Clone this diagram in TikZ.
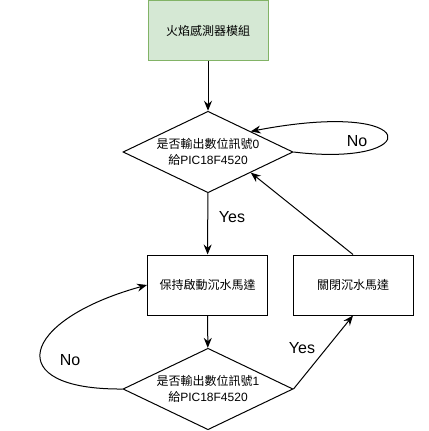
\documentclass[tikz,border=0pt]{standalone}
\usepackage{fontspec}
\setmainfont{Liberation Sans}
\newfontfamily\cjk{Noto Sans CJK TC}
\usetikzlibrary{shapes.geometric,arrows.meta}

\begin{document}
\begin{tikzpicture}[x=0.75pt,y=0.75pt,yscale=-1,xscale=1,
    stepbox/.style={draw, line width=0.75pt, minimum width=90pt, minimum height=45pt, inner sep=0.75pt, font=\cjk\fontsize{9}{12}\selectfont},
    askbox/.style={draw, diamond, aspect=2, line width=0.75pt, minimum width=127.5pt, minimum height=61pt, inner sep=0.75pt, align=center, font=\cjk\fontsize{9}{12}\selectfont},
    flow/.style={line width=0.75pt, -{Stealth[length=7.5pt,width=6pt,inset=2.5pt]}},
    answer/.style={inner sep=0.75pt, font=\fontsize{12}{14}\selectfont}
  ]
  %set diagram size
  \useasboundingbox (0,0) rectangle (428,431);

  %Shape: Rectangle [id:sensor]
  \node [stepbox, draw={rgb, 255:red, 130; green, 179; blue, 102 }, fill={rgb, 255:red, 213; green, 232; blue, 212 }] (sensor) at (208,30.5) {火焰感測器模組};
  %Shape: Diamond [id:check0]
  \node [askbox] (check0) at (208,152) {是否輸出數位訊號{\rmfamily 0}\\給{\rmfamily PIC18F4520}};
  %Shape: Rectangle [id:keepon]
  \node [stepbox] (keepon) at (207.5,285) {保持啟動沉水馬達};
  %Shape: Rectangle [id:turnoff]
  \node [stepbox] (turnoff) at (353,285) {關閉沉水馬達};
  %Shape: Diamond [id:check1]
  \node [askbox] (check1) at (208,389) {是否輸出數位訊號{\rmfamily 1}\\給{\rmfamily PIC18F4520}};

  % Text Node
  \node [answer] (no0) at (357,141) {No};
  % Text Node
  \node [answer] (yes0) at (232,217) {Yes};
  % Text Node
  \node [answer] (yes1) at (302,348) {Yes};
  % Text Node
  \node [answer] (no1) at (70,360) {No};

  %Straight Lines
  \draw [flow] (sensor) -- (check0);
  \draw [flow] (check0) -- (keepon);
  \draw [flow] (keepon) -- (check1);
  \draw [flow] (turnoff.north) -- (check0.south east);
  \draw [flow] (check1.east) -- (turnoff.south);
  %Curve Lines
  \draw [flow] (check0.east) .. controls (425,168) and (425,98) .. (check0.north east);
  \draw [flow] (check1.west) .. controls (0,390) and (20,320) .. (keepon.west);

\end{tikzpicture}
\end{document}
